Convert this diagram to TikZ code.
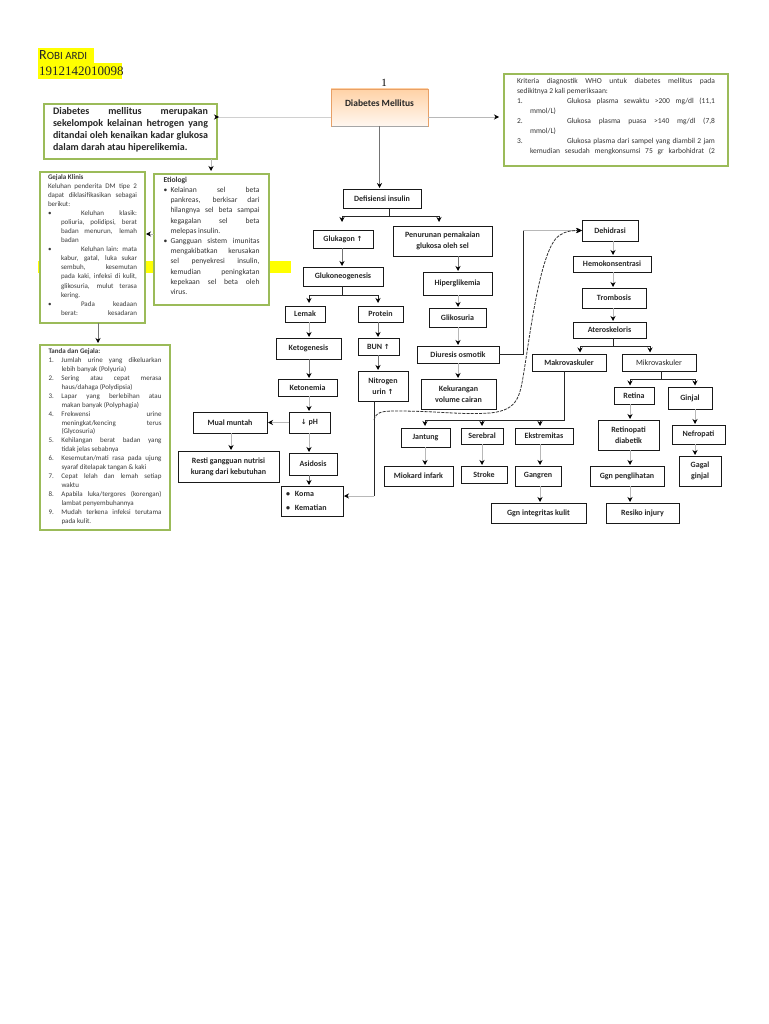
\documentclass[tikz,border=0pt]{standalone}
\usepackage{fontspec}
\setmainfont{Carlito}
\newfontfamily\djv{DejaVu Sans}
\newfontfamily\ser{Liberation Serif}
\usetikzlibrary{arrows.meta}
\definecolor{gborder}{HTML}{9BBB59}
\definecolor{hl}{HTML}{FFFF00}
\definecolor{orborder}{HTML}{E8A066}
\definecolor{txtg}{HTML}{3A3A3A}
\tikzset{
  x=1pt,y=-1pt,
  fb/.style={draw=black!90,line width=0.9pt,fill=white,inner sep=0pt,outer sep=0pt,align=center,font=\fontsize{8}{11}\selectfont\bfseries,text=black!85},
  gb/.style={draw=gborder,line width=2.2pt,fill=white,inner sep=0pt,outer sep=0pt,align=left},
  dmb/.style={draw=orborder,line width=0.8pt,top color=orange!35!white,bottom color=orange!6!white,inner sep=0pt,outer sep=0pt,font=\fontsize{9.5}{11}\selectfont\bfseries,text=black!85},
  arr/.style={draw=black!55,line width=0.7pt,-{Stealth[length=5pt,width=5pt,black]},shorten >=1pt},
  arl/.style={draw=black!28,line width=0.8pt,-{Stealth[length=5pt,width=5pt,black]},shorten >=1pt},
  ln/.style={draw=black!85,line width=0.8pt},
  tp/.style={draw=black!85,line width=0.8pt,-{Stealth[length=5pt,width=5pt,black]}},
  dsh/.style={draw=black!80,line width=0.8pt,dashed,dash pattern=on 3pt off 1.2pt,-{Stealth[length=5pt,width=5pt,black]}},
  titl/.style={anchor=base west,inner sep=0pt,text=black!85},
}
\newcommand\bx[7][fb]{\node[#1,minimum width=#4-#2,minimum height=#5-#3] (#6) at ({(#2+#4)/2},{(#3+#5)/2}) {#7};}
\newcommand\jl[2][0pt]{\hbox to\hsize{\hskip#1\relax #2}}
\newcommand\pl[2][0pt]{\hbox to\hsize{\hskip#1\relax #2\hfil}}
\newcommand\bj[2][10pt]{\hbox to\hsize{\rlap{•}\hskip#1\relax #2}}
\newcommand\bp[2][10pt]{\hbox to\hsize{\rlap{•}\hskip#1\relax #2\hfil}}
\newcommand\nj[3][13pt]{\hbox to\hsize{\rlap{#2}\hskip#1\relax #3}}
\newcommand\np[3][13pt]{\hbox to\hsize{\rlap{#2}\hskip#1\relax #3\hfil}}
\hbadness=10000 \hfuzz=20pt \vbadness=10000
\begin{document}
\begin{tikzpicture}
\useasboundingbox (0,0) rectangle (768,1024);
\fill[white] (0,0) rectangle (768,1024);
% highlights
\fill[hl] (38,48) rectangle (94,63);
\fill[hl] (38,63) rectangle (122,79);
\fill[hl] (38,261) rectangle (291,273);
\node[titl] (name) at (39,60) {{\fontsize{14}{14}\selectfont R}{\fontsize{11}{14}\selectfont OBI ARDI}};
\node[titl] (nim) at (39,75.5) {\ser\fontsize{13}{14}\selectfont 1912142010098};
\node[inner sep=0pt] (one) at (384,83) {\ser\fontsize{11}{12}\selectfont 1};
% main title
\bx[dmb]{331}{89}{428}{126}{dm}{\raisebox{9pt}{Diabetes Mellitus}}
\fill[black!35] (332,126) rectangle (428,127.5);
% green boxes
\bx[gb]{44}{104}{217}{159}{dbox}{\parbox[c][48pt][t]{155pt}{\fontsize{10}{12}\selectfont\bfseries\color{black!85}
\jl{Diabetes\hfil mellitus\hfil merupakan}
\jl{sekelompok kelainan hetrogen yang}
\jl{ditandai oleh kenaikan kadar glukosa}
\pl{dalam darah atau hiperelikemia.}}}
\bx[gb]{40}{172}{145}{323}{gejala}{\parbox[c][146pt][t]{89pt}{\fontsize{7}{9.05}\selectfont\color{txtg}
\pl{\bfseries Gejala Klinis}
\jl{Keluhan penderita DM tipe 2}
\jl{dapat diklasifikasikan sebagai}
\pl{berikut:}
\bj[13pt]{\hskip20pt Keluhan\hfil klasik:}
\jl[13pt]{poliuria, polidipsi, berat}
\jl[13pt]{badan menurun, lemah}
\pl[13pt]{badan}
\bj[13pt]{\hskip20pt Keluhan lain: mata}
\jl[13pt]{kabur, gatal, luka sukar}
\jl[13pt]{sembuh,\hfil kesemutan}
\jl[13pt]{pada kaki, infeksi di kulit,}
\jl[13pt]{glikosuria, mulut terasa}
\pl[13pt]{kering.}
\bj[13pt]{\hskip20pt Pada\hfil keadaan}
\jl[13pt]{berat:\hfil kesadaran}}}
\bx[gb]{154}{174}{269}{305}{etio}{\parbox[c][125pt][t]{96pt}{\fontsize{7.6}{10.2}\selectfont\color{black!80}
\pl{\bfseries Etiologi}
\bj[7pt]{Kelainan\hfil sel\hfil beta}
\jl[7pt]{pankreas, berkisar dari}
\jl[7pt]{hilangnya sel beta sampai}
\jl[7pt]{kegagalan\hfil sel\hfil beta}
\pl[7pt]{melepas insulin.}
\bj[7pt]{Gangguan sistem imunitas}
\jl[7pt]{mengakibatkan kerusakan}
\jl[7pt]{sel penyekresi insulin,}
\jl[7pt]{kemudian\hfil peningkatan}
\jl[7pt]{kepekaan sel beta oleh}
\pl[7pt]{virus.}}}
\bx[gb]{40}{345}{170}{530}{tanda}{\parbox[c][178pt][t]{113pt}{\fontsize{7}{8.95}\selectfont\color{txtg}
\pl{\bfseries Tanda dan Gejala:}
\nj{1.}{Jumlah urine yang dikeluarkan}
\np{}{lebih banyak (Polyuria)}
\nj{2.}{Sering\hfil atau\hfil cepat\hfil merasa}
\np{}{haus/dahaga (Polydipsia)}
\nj{3.}{Lapar yang berlebihan atau}
\np{}{makan banyak (Polyphagia)}
\nj{4.}{Frekwensi\hfil urine}
\nj{}{meningkat/kencing\hfil terus}
\np{}{(Glycosuria)}
\nj{5.}{Kehilangan berat badan yang}
\np{}{tidak jelas sebabnya}
\nj{6.}{Kesemutan/mati rasa pada ujung}
\np{}{syaraf ditelapak tangan \& kaki}
\nj{7.}{Cepat lelah dan lemah setiap}
\np{}{waktu}
\nj{8.}{Apabila luka/tergores (korengan)}
\np{}{lambat penyembuhannya}
\nj{9.}{Mudah terkena infeksi terutama}
\np{}{pada kulit.}}}
\bx[gb]{504}{74}{728}{166}{krit}{\parbox[c][84pt][t]{198pt}{\fontsize{7.5}{10}\selectfont\color{black!80}
\jl{Kriteria diagnostik WHO untuk diabetes mellitus pada}
\pl{sedikitnya 2 kali pemeriksaan:}
\hbox to\hsize{\rlap{1.}\hskip50pt Glukosa plasma sewaktu >200 mg/dl (11,1}
\pl[13pt]{mmol/L)}
\hbox to\hsize{\rlap{2.}\hskip50pt Glukosa plasma puasa >140 mg/dl (7,8}
\pl[13pt]{mmol/L)}
\hbox to\hsize{\rlap{3.}\hskip50pt Glukosa plasma dari sampel yang diambil 2 jam}
\jl[13pt]{kemudian sesudah mengkonsumsi 75 gr karbohidrat (2}}}
% flow boxes
\bx{343}{189}{421}{208}{def}{Defisiensi insulin}
\bx{313}{230}{373}{248}{glukagon}{Glukagon {\djv\fontsize{7}{8}\selectfont ↑}}
\bx{393}{226}{492}{256}{penurunan}{Penurunan pemakaian\\glukosa oleh sel}
\bx{303}{267}{383}{286}{gluko}{Glukoneogenesis}
\bx{423}{272}{492}{295}{hiper}{Hiperglikemia}
\bx{285}{306}{325}{322}{lemak}{Lemak}
\bx{358}{306}{403}{322}{protein}{Protein}
\bx{429}{308}{486}{327}{gliko}{Glikosuria}
\bx{276}{338}{341}{359}{keto}{Ketogenesis}
\bx{358}{338}{399}{355}{bun}{BUN {\djv\fontsize{7}{8}\selectfont ↑}}
\bx{417}{346}{499}{363}{diuresis}{Diuresis osmotik}
\bx{278}{379}{337}{396}{ketonemia}{Ketonemia}
\bx{358}{371}{408}{401}{nitro}{Nitrogen\\urin {\djv\fontsize{7}{8}\selectfont ↑}}
\bx{421}{379}{496}{409}{kekurangan}{Kekurangan\\volume cairan}
\bx{289}{412}{330}{433}{ph}{{\djv\fontsize{7}{8}\selectfont ↓} pH}
\bx{193}{412}{267}{433}{mual}{Mual muntah}
\bx{178}{451}{279}{482}{resti}{Resti gangguan nutrisi\\kurang dari kebutuhan}
\bx{289}{453}{337}{475}{asidosis}{Asidosis}
\bx{281}{486}{343}{516}{koma}{\parbox{52pt}{\fontsize{8}{13.5}\selectfont\bfseries •\hskip5pt Koma\\•\hskip5pt Kematian}}
\bx{401}{428}{450}{447}{jantung}{Jantung}
\bx{461}{428}{503}{444}{serebral}{Serebral}
\bx{515}{428}{573}{444}{ekstrem}{Ekstremitas}
\bx{384}{466}{453}{486}{miokard}{Miokard infark}
\bx{461}{466}{507}{483}{stroke}{Stroke}
\bx{515}{466}{561}{486}{gangren}{Gangren}
\bx{491}{503}{586}{523}{ggnkulit}{Ggn integritas kulit}
\bx{582}{220}{638}{241}{dehid}{Dehidrasi}
\bx{573}{256}{651}{272}{hemo}{Hemokonsentrasi}
\bx{582}{288}{646}{308}{trombosis}{Trombosis}
\bx{573}{322}{646}{338}{atero}{Ateroskeloris}
\bx{532}{354}{606}{371}{makro}{Makrovaskuler}
\bx{622}{354}{696}{371}{mikro}{\mdseries Mikrovaskuler}
\bx{614}{387}{654}{404}{retina}{Retina}
\bx{668}{387}{712}{409}{ginjal}{Ginjal}
\bx{598}{420}{659}{450}{retino}{Retinopati\\diabetik}
\bx{672}{425}{725}{444}{nefro}{Nefropati}
\bx{679}{456}{721}{486}{gagal}{Gagal\\ginjal}
\bx{590}{466}{664}{486}{ggnlihat}{Ggn penglihatan}
\bx{606}{503}{679}{523}{resiko}{Resiko injury}
% junction coordinates
\coordinate (jdef) at (389,216);
\coordinate (jdefl) at (342,216);
\coordinate (jdefr) at (439,216);
\coordinate (jglu) at (342,295);
\coordinate (jglul) at (309,295);
\coordinate (jglur) at (378,295);
\coordinate (jate) at (613,346);
\coordinate (jatel) at (580,346);
\coordinate (jater) at (650,346);
\coordinate (jmik) at (661,379);
\coordinate (jmikl) at (630,379);
\coordinate (jmikr) at (695,379);
\coordinate (jmak) at (564,420);
\coordinate (jmaka) at (425,420);
\coordinate (jmakb) at (482,420);
\coordinate (jmakc) at (540,420);
\coordinate (nk) at (374,496);
\coordinate (nt) at (374,401);
\coordinate (dur) at (523,354);
\coordinate (duu) at (523,230.5);
\coordinate (dstart) at (374,420);
% top connectors
\draw[arr] (dm.south) -- (dm.south |- def.north);
\draw[arl] (dm.west |- 0,117) -- (220,117 -| dbox.east) -- ++(3,0) coordinate (tmp);
\draw[arl] (dm.east |- 0,117) -- (500,117);
\draw[arl] (dbox.south -| 211,0) -- (211,172);
\draw[arl] (etio.west |- 0,234) -- (gejala.east |- 0,234);
\draw[arr] (gejala.south -| 98,0) -- (98,344);
% deficit tree
\draw[ln] (def.south -| jdef) -- (jdef);
\draw[ln] (jdefl) -- (jdefr);
\draw[tp] (jdefl) -- (342,222);
\draw[tp] (jdefr) -- (439,222);
\draw[arr] (glukagon.south -| jdefl) -- (jdefl |- gluko.north);
\draw[ln] (gluko.south -| jglu) -- (jglu);
\draw[ln] (jglul) -- (jglur);
\draw[tp] (jglul) -- (309,303);
\draw[tp] (jglur) -- (378,303);
\draw[arl] (lemak.south -| jglul) -- (jglul |- keto.north);
\draw[arr] (protein.south -| jglur) -- (jglur |- bun.north);
\draw[arr] (keto.south -| jglul) -- (jglul |- ketonemia.north);
\draw[arr] (bun.south -| jglur) -- (jglur |- nitro.north);
\draw[arl] (ketonemia.south -| jglul) -- (jglul |- ph.north);
\draw[arl] (ph.west) -- (mual.east);
\draw[arl] (ph.south -| jglul) -- (jglul |- asidosis.north);
\draw[arl] (mual.south -| 231,0) -- (231,451);
\draw[arr] (asidosis.south -| jglul) -- (jglul |- koma.north);
\draw[ln] (nt) -- (nk);
\draw[arl] (nk) -- (koma.east |- nk);
% right middle column
\draw[arr] (penurunan.south -| 458,0) -- (458,272);
\draw[arl] (hiper.south -| 458,0) -- (458,308);
\draw[arl] (gliko.south -| 458,0) -- (458,346);
\draw[arl] (diuresis.south -| 458,0) -- (458,379);
\draw[ln] (diuresis.east |- dur) -- (dur) -- (duu);
\draw[arl] (duu) -- (dehid.west);
\draw[dsh] (dstart) .. controls (376,412) and (382,411) .. (395,411) .. controls (440,411) and (460,415) .. (490,413) .. controls (520,410) and (520,395) .. (525,365) .. controls (532,320) and (542,245) .. (560,235) .. controls (566,231) and (572,230.5) .. (dehid.west);
% makrovaskuler
\draw[ln] (makro.south -| jmak) -- (jmak) -- (jmaka);
\draw[tp] (jmaka) -- (425,426);
\draw[tp] (jmakb) -- (482,426);
\draw[tp] (jmakc) -- (540,426);
\draw[arl] (jantung.south -| jmaka) -- (jmaka |- miokard.north);
\draw[arl] (serebral.south -| jmakb) -- (jmakb |- stroke.north);
\draw[arl] (ekstrem.south -| jmakc) -- (jmakc |- gangren.north);
\draw[arl] (gangren.south -| jmakc) -- (jmakc |- ggnkulit.north);
% right column
\draw[arl] (dehid.south -| jate) -- (jate |- hemo.north);
\draw[arl] (hemo.south -| jate) -- (jate |- trombosis.north);
\draw[arl] (trombosis.south -| jate) -- (jate |- atero.north);
\draw[ln] (atero.south -| jate) -- (jate);
\draw[ln] (jatel) -- (jater);
\draw[tp] (jatel) -- (580,352.5);
\draw[tp] (jater) -- (650,352.5);
\draw[ln] (mikro.south -| jmik) -- (jmik);
\draw[ln] (jmikl) -- (jmikr);
\draw[tp] (jmikl) -- (630,385.5);
\draw[tp] (jmikr) -- (695,385.5);
\draw[arl] (retina.south -| jmikl) -- (jmikl |- retino.north);
\draw[arl] (ginjal.south -| jmikr) -- (jmikr |- nefro.north);
\draw[arl] (nefro.south -| jmikr) -- (jmikr |- gagal.north);
\draw[arl] (retino.south -| jmikl) -- (jmikl |- ggnlihat.north);
\draw[arl] (ggnlihat.south -| jmikl) -- (jmikl |- resiko.north);
\end{tikzpicture}
\end{document}
